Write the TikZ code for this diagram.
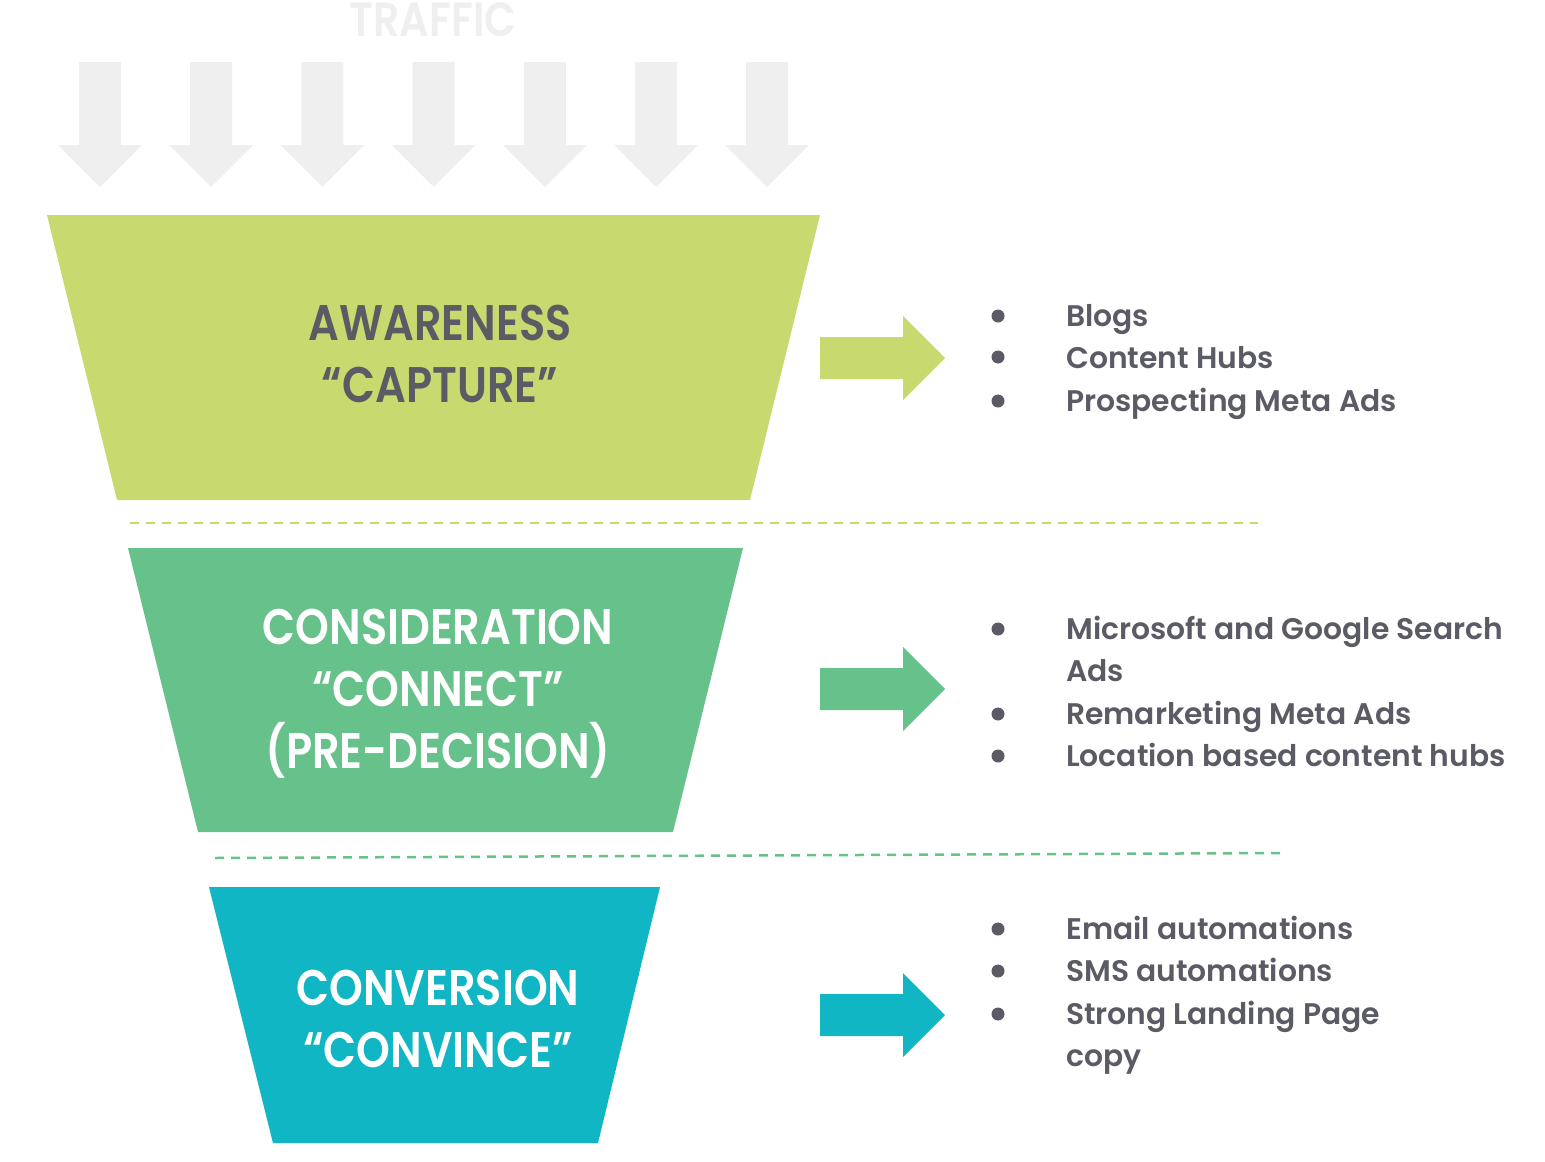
\documentclass[tikz,border=0pt]{standalone}
\usepackage{fontspec}
\setmainfont{Poppins}[BoldFont={Poppins SemiBold}]
\newfontfamily\condfont{Poppins SemiBold}[FakeStretch=0.86]
\definecolor{limec}{HTML}{C8D96F}
\definecolor{greenc}{HTML}{66C18A}
\definecolor{tealc}{HTML}{10B6C4}
\definecolor{txtgray}{HTML}{5B5B65}
\definecolor{trafgray}{HTML}{EFEFEF}
\tikzset{
  title/.style={align=center, inner sep=0pt, font=\condfont\fontsize{50}{62}\selectfont},
  item/.style={anchor=base west, inner sep=0pt, text=txtgray, font=\bfseries\fontsize{29.8}{34}\selectfont},
  bul/.style={fill=txtgray},
  sep/.style={line width=2.5pt, dash pattern=on 9pt off 7pt}
}
\begin{document}
\begin{tikzpicture}[x=1pt,y=-1pt]
\useasboundingbox (0,0) rectangle (1545,1162);
% traffic
\node[inner sep=0pt, text=trafgray, font=\condfont\fontsize{48}{48}\selectfont] (traffic) at (433,20) {TRAFFIC};
\foreach \i in {0,...,6}{
  \pgfmathsetmacro\cx{100+111.2*\i}
  \fill[trafgray] (\cx-21,62) -- (\cx+21,62) -- (\cx+21,145) -- (\cx+42,145) -- (\cx,187) -- (\cx-42,145) -- (\cx-21,145) -- cycle;
}
% funnels
\fill[limec] (47,215) -- (820,215) -- (750,500) -- (117,500) -- cycle;
\fill[greenc] (128,548) -- (743,548) -- (673,832) -- (198,832) -- cycle;
\fill[tealc] (209,887) -- (660,887) -- (598,1143) -- (273,1143) -- cycle;
\node[title, text=txtgray] (aw) at (440,354) {AWARENESS\\“CAPTURE”};
\node[title, text=white] (co) at (438,694) {CONSIDERATION\\“CONNECT”\\(PRE-DECISION)};
\node[title, text=white] (cv) at (438,1019) {CONVERSION\\“CONVINCE”};
% separators
\draw[sep, limec] (130,523) -- (1258,523);
\draw[sep, greenc] (215,858) -- (1285,853);
% right arrows
\foreach \cy/\col in {358/limec, 689/greenc, 1015/tealc}{
  \fill[\col] (820,\cy-21) -- (903,\cy-21) -- (903,\cy-42) -- (945,\cy) -- (903,\cy+42) -- (903,\cy+21) -- (820,\cy+21) -- cycle;
}
% bullets
\foreach \by in {316,357,401,629,714,756,929,971,1014}{
  \fill[bul] (998,\by) circle (6.5);
}
\node[item] (b1) at (1066,326) {Blogs};
\node[item] (b2) at (1066,368) {Content Hubs};
\node[item] (b3) at (1066,411) {Prospecting Meta Ads};
\node[item] (c1) at (1066,639) {Microsoft and Google Search};
\node[item] (c2) at (1066,681) {Ads};
\node[item] (c3) at (1066,724) {Remarketing Meta Ads};
\node[item] (c4) at (1066,766) {Location based content hubs};
\node[item] (d1) at (1066,939) {Email automations};
\node[item] (d2) at (1066,981) {SMS automations};
\node[item] (d3) at (1066,1024) {Strong Landing Page};
\node[item] (d4) at (1066,1066) {copy};
\end{tikzpicture}
\end{document}
